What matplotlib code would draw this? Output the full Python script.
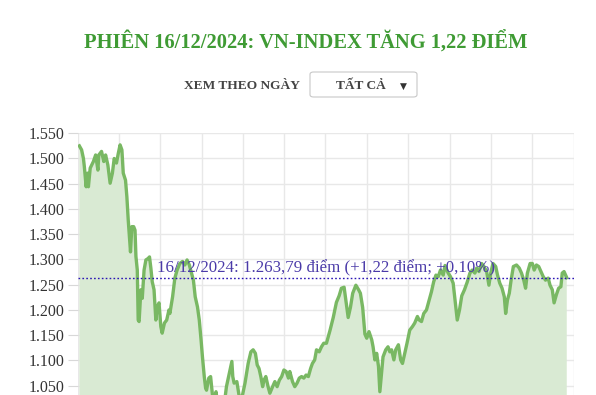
import matplotlib
matplotlib.use("Agg")
import matplotlib.pyplot as plt
import matplotlib.dates as mdates
from matplotlib.patches import FancyBboxPatch
import pandas as pd

# ---------------- data ----------------
dates = [
    "2022-01-04", "2022-01-09", "2022-01-13", "2022-01-15", "2022-01-19", "2022-01-22", "2022-01-24", "2022-01-28",
    "2022-02-04", "2022-02-09", "2022-02-14", "2022-02-16", "2022-02-22", "2022-02-27", "2022-03-03", "2022-03-08",
    "2022-03-13", "2022-03-18", "2022-03-22", "2022-03-27", "2022-03-31", "2022-04-04", "2022-04-08", "2022-04-11",
    "2022-04-16", "2022-04-19", "2022-04-22", "2022-04-24", "2022-04-27", "2022-04-30", "2022-05-04", "2022-05-07",
    "2022-05-09", "2022-05-12", "2022-05-14", "2022-05-16", "2022-05-20", "2022-05-23", "2022-05-27", "2022-05-31",
    "2022-06-05", "2022-06-08", "2022-06-11", "2022-06-14", "2022-06-18", "2022-06-22", "2022-06-25", "2022-06-29",
    "2022-07-03", "2022-07-06", "2022-07-11", "2022-07-16", "2022-07-21", "2022-07-23", "2022-07-29", "2022-08-03",
    "2022-08-08", "2022-08-14", "2022-08-20", "2022-08-25", "2022-08-30", "2022-09-04", "2022-09-08", "2022-09-13",
    "2022-09-17", "2022-09-22", "2022-09-26", "2022-09-30", "2022-10-03", "2022-10-07", "2022-10-10", "2022-10-12",
    "2022-10-17", "2022-10-21", "2022-10-24", "2022-10-27", "2022-11-02", "2022-11-06", "2022-11-11", "2022-11-15",
    "2022-11-19", "2022-11-25", "2022-12-03", "2022-12-07", "2022-12-09", "2022-12-12", "2022-12-18", "2022-12-23",
    "2022-12-29", "2023-01-05", "2023-01-12", "2023-01-18", "2023-01-23", "2023-01-28", "2023-02-01", "2023-02-05",
    "2023-02-09", "2023-02-13", "2023-02-16", "2023-02-20", "2023-02-25", "2023-03-01", "2023-03-07", "2023-03-12",
    "2023-03-17", "2023-03-22", "2023-03-27", "2023-04-01", "2023-04-06", "2023-04-11", "2023-04-14", "2023-04-20",
    "2023-04-25", "2023-04-30", "2023-05-05", "2023-05-10", "2023-05-15", "2023-05-20", "2023-05-25", "2023-05-30",
    "2023-06-03", "2023-06-08", "2023-06-12", "2023-06-18", "2023-06-23", "2023-06-28", "2023-07-04", "2023-07-12",
    "2023-07-19", "2023-07-26", "2023-08-01", "2023-08-06", "2023-08-12", "2023-08-16", "2023-08-21", "2023-08-26",
    "2023-08-31", "2023-09-07", "2023-09-13", "2023-09-17", "2023-09-22", "2023-09-27", "2023-10-01", "2023-10-06",
    "2023-10-12", "2023-10-15", "2023-10-19", "2023-10-23", "2023-10-27", "2023-10-30", "2023-11-02", "2023-11-06",
    "2023-11-12", "2023-11-17", "2023-11-21", "2023-11-25", "2023-11-30", "2023-12-04", "2023-12-10", "2023-12-15",
    "2023-12-19", "2023-12-24", "2023-12-29", "2024-01-04", "2024-01-10", "2024-01-15", "2024-01-21", "2024-01-25",
    "2024-01-30", "2024-02-04", "2024-02-10", "2024-02-16", "2024-02-21", "2024-02-26", "2024-03-02", "2024-03-07",
    "2024-03-12", "2024-03-18", "2024-03-22", "2024-03-29", "2024-04-03", "2024-04-09", "2024-04-13", "2024-04-18",
    "2024-04-23", "2024-04-28", "2024-05-04", "2024-05-10", "2024-05-16", "2024-05-21", "2024-05-27", "2024-05-31",
    "2024-06-05", "2024-06-11", "2024-06-16", "2024-06-22", "2024-06-27", "2024-07-01", "2024-07-06", "2024-07-12",
    "2024-07-16", "2024-07-21", "2024-07-26", "2024-07-31", "2024-08-03", "2024-08-07", "2024-08-11", "2024-08-15",
    "2024-08-20", "2024-08-27", "2024-09-02", "2024-09-07", "2024-09-12", "2024-09-16", "2024-09-20", "2024-09-26",
    "2024-10-01", "2024-10-05", "2024-10-10", "2024-10-15", "2024-10-20", "2024-10-25", "2024-10-30", "2024-11-05",
    "2024-11-09", "2024-11-14", "2024-11-18", "2024-11-23", "2024-11-28", "2024-12-03", "2024-12-06", "2024-12-10",
    "2024-12-16",
]
vnindex = [
    1525, 1517, 1500, 1484, 1444, 1471, 1444, 1481,
    1494, 1507, 1477, 1507, 1514, 1494, 1507, 1487,
    1451, 1471, 1500, 1491, 1510, 1527, 1517, 1471,
    1457, 1424, 1378, 1352, 1315, 1365, 1365, 1358,
    1306, 1279, 1180, 1177, 1240, 1223, 1279, 1299,
    1302, 1305, 1283, 1256, 1240, 1180, 1206, 1214,
    1167, 1154, 1174, 1180, 1200, 1193, 1226, 1263,
    1279, 1292, 1296, 1289, 1299, 1289, 1276, 1259,
    1226, 1206, 1180, 1140, 1107, 1068, 1045, 1041,
    1065, 1068, 1041, 1015, 1038, 1010, 990, 975,
    1005, 1048, 1081, 1098, 1068, 1055, 1058, 1030,
    1025, 1055, 1094, 1117, 1121, 1114, 1091, 1084,
    1068, 1048, 1061, 1068, 1048, 1035, 1048, 1058,
    1048, 1061, 1068, 1081, 1078, 1065, 1078, 1058,
    1048, 1055, 1065, 1068, 1065, 1071, 1068, 1084,
    1094, 1101, 1121, 1117, 1127, 1134, 1134, 1160,
    1185, 1215, 1228, 1243, 1245, 1218, 1185, 1205,
    1233, 1249, 1240, 1233, 1205, 1152, 1144, 1157,
    1141, 1127, 1101, 1114, 1088, 1038, 1068, 1107,
    1121, 1127, 1117, 1121, 1101, 1121, 1131, 1101,
    1094, 1114, 1134, 1160, 1167, 1174, 1187, 1180,
    1177, 1193, 1200, 1220, 1236, 1256, 1269, 1266,
    1279, 1269, 1288, 1273, 1266, 1253, 1220, 1180,
    1200, 1228, 1240, 1255, 1273, 1279, 1273, 1283,
    1276, 1292, 1286, 1276, 1249, 1273, 1292, 1286,
    1269, 1253, 1243, 1226, 1193, 1220, 1233, 1259,
    1286, 1289, 1283, 1273, 1259, 1243, 1273, 1292,
    1292, 1279, 1289, 1286, 1276, 1266, 1259, 1263,
    1249, 1240, 1214, 1230, 1243, 1246, 1273, 1276,
    1263.79,
]
last_value = 1263.79
yticks = [1050, 1100, 1150, 1200, 1250, 1300, 1350, 1400, 1450, 1500, 1550]
ytick_labels = ["1.050", "1.100", "1.150", "1.200", "1.250", "1.300", "1.350",
                "1.400", "1.450", "1.500", "1.550"]
title = "PHIÊN 16/12/2024: VN-INDEX TĂNG 1,22 ĐIỂM"
annotation = "16/12/2024: 1.263,79 điểm (+1,22 điểm; +0,10%)"

# ---------------- figure ----------------
W, H = 596, 395
fig = plt.figure(figsize=(W / 100, H / 100), dpi=100)
fig.patch.set_facecolor("white")

serif = ["Liberation Serif", "DejaVu Serif"]

# Title
fig.text(306 / W, 1 - 42 / H, title, ha="center", va="center",
         fontsize=14.8, fontweight="bold", color="#3f9b34", family=serif)

# Dropdown label and box
fig.text(300 / W, 1 - 86 / H, "XEM THEO NGÀY", ha="right", va="center",
         fontsize=9.6, fontweight="bold", color="#444444", family=serif)
box = FancyBboxPatch((310 / W, 1 - 97 / H), 107 / W, 25 / H,
                     boxstyle="round,pad=0,rounding_size=0.006",
                     transform=fig.transFigure, facecolor="white",
                     edgecolor="#c8c8c8", linewidth=0.8)
fig.patches.append(box)
fig.text(361 / W, 1 - 86 / H, "TẤT CẢ", ha="center", va="center",
         fontsize=9.6, fontweight="bold", color="#444444", family=serif)
fig.text(403 / W, 1 - 86.5 / H, "▼", ha="center", va="center",
         fontsize=6.5, color="#333333", family=["DejaVu Sans"])

# Axes
ax_top_px = 132.5
ax = fig.add_axes([78 / W, 0, 496 / W, (H - ax_top_px) / H])
x = pd.to_datetime(dates)
ymax = 1551.5
ymin = ymax - (H - ax_top_px) * 1.981
ax.set_xlim(pd.Timestamp("2022-01-01"), pd.Timestamp("2025-01-01"))
ax.set_ylim(ymin, ymax)

ax.fill_between(x, vnindex, ymin - 300, color="#d9ead3", linewidth=0, zorder=1)
ax.plot(x, vnindex, color="#79b863", linewidth=2.4, solid_joinstyle="round", zorder=3)

ax.axhline(last_value, color="#2a14b4", linewidth=1.0, linestyle=(0, (1.2, 1.6)), zorder=4)
ax.text(pd.Timestamp("2023-07-03"), last_value + 3, annotation, ha="center", va="bottom",
        fontsize=12.2, color="#4a3aa8", family=serif, zorder=5)

ax.set_xticks(pd.date_range("2022-01-01", "2025-01-01", freq="QS"))
ax.set_xticklabels([])
ax.tick_params(axis="x", length=0)
ax.set_yticks(yticks)
ax.set_yticklabels(ytick_labels)
ax.tick_params(axis="y", length=7, width=0.8, color="#d8d8d8", pad=3,
               labelsize=11.5, labelcolor="#333333")
for lab in ax.get_yticklabels():
    lab.set_family(serif)
ax.grid(True, color="#e8e8e8", linewidth=1.0, zorder=0)
ax.set_axisbelow(True)
for s in ax.spines.values():
    s.set_visible(False)
ax.set_facecolor("white")

fig.savefig("out.png", dpi=100)
